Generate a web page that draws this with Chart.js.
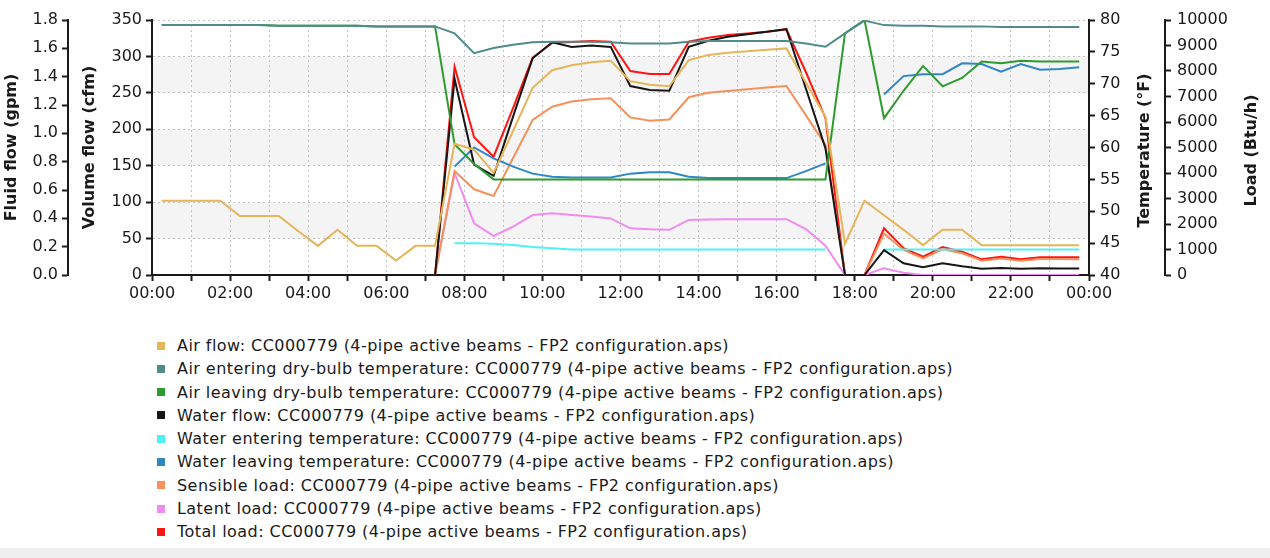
<!DOCTYPE html>
<html>
<head>
<meta charset="utf-8">
<script src="https://cdn.jsdelivr.net/npm/chart.js@4.4.1/dist/chart.umd.min.js"></script>
<style>
  body { margin: 0; background: #fff; font-family: "DejaVu Sans", sans-serif; }
  #wrap { position: relative; width: 1270px; height: 558px; overflow: hidden; }
  #box { position: absolute; left: 0; top: 0; width: 1270px; height: 320px; }
  #legend { position: absolute; left: 157px; top: 334px; font-size: 16px; letter-spacing: 0.45px; color: #1a1a1a; }
  #legend div { height: 23.3px; line-height: 23.3px; white-space: nowrap; }
  #legend span { display: inline-block; width: 8px; height: 8px; margin-right: 12px; vertical-align: middle; position: relative; top: -1px; }
  #strip { position: absolute; left: 0; top: 548px; width: 1270px; height: 10px; background: #f0f0f0; }
</style>
</head>
<body>
<div id="wrap">
  <div id="box"><canvas id="canvas"></canvas></div>
  <div id="legend"></div>
  <div id="strip"></div>
</div>
<script>
let canvas = document.getElementById("canvas").getContext("2d")

// half-hourly samples
const times = [
    "00:15","00:45","01:15","01:45","02:15","02:45","03:15","03:45",
    "04:15","04:45","05:15","05:45","06:15","06:45","07:15","07:45",
    "08:15","08:45","09:15","09:45","10:15","10:45","11:15","11:45",
    "12:15","12:45","13:15","13:45","14:15","14:45","15:15","15:45",
    "16:15","16:45","17:15","17:45","18:15","18:45","19:15","19:45",
    "20:15","20:45","21:15","21:45","22:15","22:45","23:15","23:45"
]

const labels = [
    "Air flow: CC000779 (4-pipe active beams - FP2 configuration.aps)",
    "Air entering dry-bulb temperature: CC000779 (4-pipe active beams - FP2 configuration.aps)",
    "Air leaving dry-bulb temperature: CC000779 (4-pipe active beams - FP2 configuration.aps)",
    "Water flow: CC000779 (4-pipe active beams - FP2 configuration.aps)",
    "Water entering temperature: CC000779 (4-pipe active beams - FP2 configuration.aps)",
    "Water leaving temperature: CC000779 (4-pipe active beams - FP2 configuration.aps)",
    "Sensible load: CC000779 (4-pipe active beams - FP2 configuration.aps)",
    "Latent load: CC000779 (4-pipe active beams - FP2 configuration.aps)",
    "Total load: CC000779 (4-pipe active beams - FP2 configuration.aps)"
]

// cfm
const airFlow = [102,102,102,102,81,81,81,60,40,62,40,40,20,40,40,
    180,172,140,198,257,281,288,292,294,266,261,259,295,302,305,307,309,311,264,217,
    43,102,82,62,41,62,62,41,41,41,41,41,41]

// degF
const airEntering = [79.2,79.2,79.2,79.2,79.2,79.2,79.1,79.1,79.1,79.1,79.1,79.0,79.0,79.0,79.0,
    77.9,74.8,75.6,76.1,76.5,76.6,76.6,76.6,76.5,76.3,76.3,76.3,76.6,76.7,76.7,76.7,76.7,76.7,76.3,75.8,
    77.9,79.9,79.2,79.1,79.1,79.0,79.0,79.0,78.9,78.9,78.9,78.9,78.9]

const airLeaving = [79.2,79.2,79.2,79.2,79.2,79.2,79.1,79.1,79.1,79.1,79.1,79.0,79.0,79.0,79.0,
    60.5,57.4,55.0,55.0,55.0,55.0,55.0,55.0,55.0,55.0,55.0,55.0,55.0,55.0,55.0,55.0,55.0,55.0,55.0,55.0,
    77.9,80.0,64.6,68.9,72.8,69.6,70.9,73.5,73.2,73.6,73.5,73.5,73.5]

// gpm
const waterFlow = [null,null,null,null,null,null,null,null,null,null,null,null,null,null,0,
    1.385,0.78,0.70,1.12,1.53,1.643,1.61,1.62,1.61,1.334,1.306,1.30,1.61,1.654,1.682,1.70,1.717,1.736,1.315,0.894,
    0,0,0.176,0.083,0.054,0.083,0.062,0.045,0.05,0.045,0.048,0.046,0.046]

const waterEntering = [null,null,null,null,null,null,null,null,null,null,null,null,null,null,null,
    45.0,45.0,44.9,44.7,44.4,44.2,44.0,44.0,44.0,44.0,44.0,44.0,44.0,44.0,44.0,44.0,44.0,44.0,44.0,44.0,
    null,null,44.0,44.0,44.0,44.0,44.0,44.0,44.0,44.0,44.0,44.0,44.0]

const waterLeaving = [null,null,null,null,null,null,null,null,null,null,null,null,null,null,null,
    57.0,60.0,58.3,57.0,55.9,55.4,55.3,55.3,55.3,55.9,56.1,56.1,55.4,55.2,55.2,55.2,55.2,55.2,56.3,57.5,
    null,null,68.3,71.2,71.5,71.5,73.2,73.1,71.9,73.1,72.2,72.3,72.6]

// Btu/h
const sensibleLoad = [null,null,null,null,null,null,null,null,null,null,null,null,null,null,0,
    4080,3360,3100,4590,6080,6600,6800,6890,6930,6180,6050,6100,6970,7150,7220,7280,7350,7410,6260,5100,
    0,0,1620,980,650,1010,850,560,650,560,630,630,620]

const latentLoad = [null,null,null,null,null,null,null,null,null,null,null,null,null,null,0,
    4000,2030,1530,1900,2350,2420,2350,2290,2220,1830,1790,1770,2160,2180,2190,2190,2190,2190,1800,1150,
    0,0,260,90,0,0,0,0,0,0,0,0,0]

const totalLoad = [null,null,null,null,null,null,null,null,null,null,null,null,null,null,0,
    8170,5400,4640,6550,8520,9100,9140,9180,9150,8000,7880,7880,9150,9300,9410,9470,9540,9630,7950,6150,
    0,0,1830,1050,720,1100,915,614,720,614,693,693,693]

const hours = times.map(t => Number(t.slice(0, 2)) + Number(t.slice(3)) / 60)
const pts = arr => arr.map((v, i) => ({x: hours[i], y: v}))

const tickFont = {family: "DejaVu Sans", size: 16}
const titleFont = {family: "DejaVu Sans", size: 16, weight: "bold"}
const ink = "#1a1a1a"
const gridGray = "#c2c2c2"

function line(label, data, color, axis) {
    return {
        label: label,
        data: pts(data),
        borderColor: color,
        backgroundColor: color,
        borderWidth: 2,
        pointRadius: 0,
        tension: 0,
        yAxisID: axis,
    }
}

function axisBase(extra) {
    return Object.assign({
        type: "linear",
        border: {color: ink, width: 2},
        grid: {drawOnChartArea: false, tickColor: ink, tickLength: 6, tickWidth: 2},
    }, extra)
}

// light bands between every other volume-flow grid line
const bands = {
    id: "bands",
    beforeDraw(chart) {
        const {ctx, chartArea: a} = chart
        const s = chart.scales.yVol
        ctx.save()
        ctx.fillStyle = "#f4f4f4"
        for (let i = 1; i + 1 < s.ticks.length; i += 2) {
            const y1 = s.getPixelForValue(s.ticks[i + 1].value)
            const y2 = s.getPixelForValue(s.ticks[i].value)
            ctx.fillRect(a.left, y1, a.right - a.left, y2 - y1)
        }
        ctx.restore()
    }
}

// right-side titles read bottom to top like the left ones
const sideTitles = {
    id: "sideTitles",
    afterDraw(chart) {
        const {ctx, chartArea: a} = chart
        const mid = (a.top + a.bottom) / 2 + 3
        const offsets = {yTemp: 20, yLoad: 18}
        Object.keys(offsets).forEach(id => {
            const s = chart.scales[id]
            ctx.save()
            ctx.translate(s.right - offsets[id], mid)
            ctx.rotate(-Math.PI / 2)
            ctx.font = "bold 16px 'DejaVu Sans'"
            ctx.fillStyle = ink
            ctx.textAlign = "center"
            ctx.textBaseline = "middle"
            ctx.fillText(s.options.title.text, 0, 0)
            ctx.restore()
        })
    }
}

const config = {
    type: "line",
    data: {
        datasets: [
            line(labels[0], airFlow, "#e5b55a", "yVol"),
            line(labels[1], airEntering, "#4f8b88", "yTemp"),
            line(labels[2], airLeaving, "#2e9b2e", "yTemp"),
            line(labels[3], waterFlow, "#161616", "yFluid"),
            line(labels[4], waterEntering, "#4ff2f2", "yTemp"),
            line(labels[5], waterLeaving, "#2f87c6", "yTemp"),
            line(labels[6], sensibleLoad, "#f5915b", "yLoad"),
            line(labels[7], latentLoad, "#f08cf0", "yLoad"),
            line(labels[8], totalLoad, "#ff1414", "yLoad"),
        ]
    },
    options: {
        responsive: true,
        maintainAspectRatio: false,
        animation: false,
        layout: {padding: {top: 20, left: 0, right: 0, bottom: 0}},
        plugins: {legend: {display: false}, tooltip: {enabled: false}},
        scales: {
            x: {
                type: "linear",
                position: "bottom",
                min: 0,
                max: 24,
                border: {color: ink, width: 2, dash: [2, 3]},
                grid: {
                    color: c => (c.tick && (c.tick.value === 0 || c.tick.value === 24)) ? "rgba(0,0,0,0)" : gridGray,
                    tickColor: ink, tickLength: 6, tickWidth: 2,
                },
                ticks: {
                    stepSize: 1, autoSkip: false, maxRotation: 0, padding: 3,
                    font: tickFont, color: ink,
                    callback: v => v % 2 ? "" : String(v % 24).padStart(2, "0") + ":00",
                },
                afterFit: s => { s.height = 45 },
            },
            yFluid: axisBase({
                position: "left", weight: 1, min: 0, max: 1.8,
                ticks: {stepSize: 0.2, padding: 4, font: tickFont, color: ink, callback: v => v.toFixed(1)},
                title: {display: true, text: "Fluid flow (gpm)", font: titleFont, color: ink, padding: {top: 2, bottom: 0}},
                afterFit: s => { s.width = 68 },
            }),
            yVol: axisBase({
                position: "left", weight: 0, min: 0, max: 350,
                border: {color: ink, width: 2, dash: [2, 3]},
                grid: {
                    color: c => (c.tick && c.tick.value === 0) ? "rgba(0,0,0,0)" : gridGray,
                    tickColor: ink, tickLength: 6, tickWidth: 2,
                },
                ticks: {stepSize: 50, padding: 4, font: tickFont, color: ink},
                title: {display: true, text: "Volume flow (cfm)", font: titleFont, color: ink, padding: {top: 12, bottom: 0}},
                afterFit: s => { s.width = 84 },
            }),
            yTemp: axisBase({
                position: "right", weight: 0, min: 40, max: 80,
                ticks: {stepSize: 5, padding: 5, font: tickFont, color: ink},
                title: {display: false, text: "Temperature (°F)"},
                afterFit: s => { s.width = 76 },
            }),
            yLoad: axisBase({
                position: "right", weight: 1, min: 0, max: 10000,
                ticks: {stepSize: 1000, padding: 6, font: tickFont, color: ink, callback: v => String(v)},
                title: {display: false, text: "Load (Btu/h)"},
                afterFit: s => { s.width = 105 },
            }),
        }
    },
    plugins: [bands, sideTitles]
}

let chart = new Chart(canvas, config)

// legend, one entry per line
const legendBox = document.getElementById("legend")
chart.data.datasets.forEach(ds => {
    const row = document.createElement("div")
    const sw = document.createElement("span")
    sw.style.background = ds.borderColor
    row.appendChild(sw)
    row.appendChild(document.createTextNode(ds.label))
    legendBox.appendChild(row)
})
</script>
</body>
</html>
